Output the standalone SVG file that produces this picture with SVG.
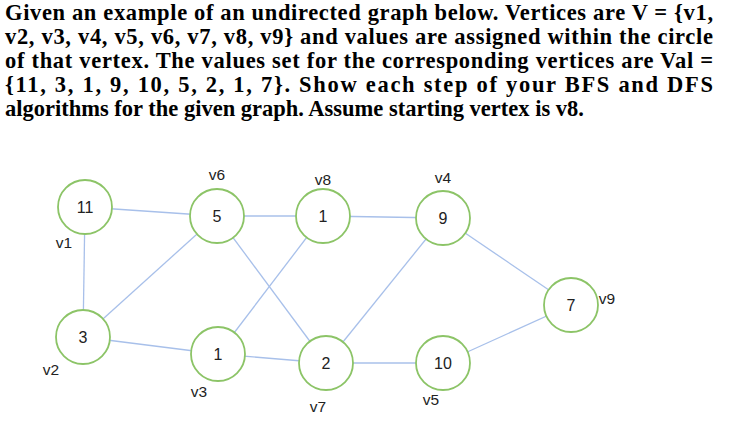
<svg xmlns="http://www.w3.org/2000/svg" width="756" height="422" viewBox="0 0 756 422">
<style>
.t{font-family:"Liberation Serif",serif;font-weight:bold;font-size:22.5px;fill:#000}
.n circle{fill:#fff;stroke:#8cc467;stroke-width:1.8}
.v{font-family:"Liberation Sans",sans-serif;font-size:16px;fill:#222;text-anchor:middle}
.l{font-family:"Liberation Sans",sans-serif;font-size:15.5px;fill:#222;text-anchor:middle}
#edges line{stroke:#a8c0ea;stroke-width:1.3}
</style>
<rect width="756" height="422" fill="#fff"/>
<text class="t" x="5" y="20" textLength="708" lengthAdjust="spacing">Given an example of an undirected graph below. Vertices are V = {v1,</text>
<text class="t" x="5" y="44" textLength="708" lengthAdjust="spacing">v2, v3, v4, v5, v6, v7, v8, v9} and values are assigned within the circle</text>
<text class="t" x="5" y="68" textLength="708" lengthAdjust="spacing">of that vertex. The values set for the corresponding vertices are Val =</text>
<text class="t" x="5" y="92" textLength="708" lengthAdjust="spacing">{11, 3, 1, 9, 10, 5, 2, 1, 7}. Show each step of your BFS and DFS</text>
<text class="t" x="5" y="116">algorithms for the given graph. Assume starting vertex is v8.</text>
<g id="edges">
<line x1="85" y1="207" x2="217" y2="216"/>
<line x1="85" y1="207" x2="83" y2="337"/>
<line x1="217" y1="216" x2="323" y2="216"/>
<line x1="323" y1="216" x2="443" y2="218"/>
<line x1="83" y1="337" x2="217" y2="216"/>
<line x1="83" y1="337" x2="218" y2="354"/>
<line x1="218" y1="354" x2="323" y2="216"/>
<line x1="217" y1="216" x2="326" y2="363"/>
<line x1="218" y1="354" x2="326" y2="363"/>
<line x1="326" y1="363" x2="443" y2="218"/>
<line x1="326" y1="363" x2="443" y2="363"/>
<line x1="443" y1="218" x2="571" y2="305"/>
<line x1="443" y1="363" x2="571" y2="305"/>
</g>
<g id="v1" class="n"><circle cx="85" cy="207" r="27"/><text class="v" x="85" y="213">11</text><text class="l" x="64" y="248">v1</text></g>
<g id="v2" class="n"><circle cx="83" cy="337" r="27"/><text class="v" x="83" y="343">3</text><text class="l" x="51" y="375">v2</text></g>
<g id="v3" class="n"><circle cx="218" cy="354" r="27"/><text class="v" x="218" y="360">1</text><text class="l" x="199" y="397">v3</text></g>
<g id="v4" class="n"><circle cx="443" cy="218" r="27"/><text class="v" x="443" y="224">9</text><text class="l" x="443" y="183">v4</text></g>
<g id="v5" class="n"><circle cx="443" cy="363" r="27"/><text class="v" x="443" y="369">10</text><text class="l" x="431" y="405">v5</text></g>
<g id="v6" class="n"><circle cx="217" cy="216" r="27"/><text class="v" x="217" y="222">5</text><text class="l" x="217" y="180">v6</text></g>
<g id="v7" class="n"><circle cx="326" cy="363" r="27"/><text class="v" x="326" y="369">2</text><text class="l" x="318" y="412">v7</text></g>
<g id="v8" class="n"><circle cx="323" cy="216" r="27"/><text class="v" x="323" y="222">1</text><text class="l" x="323" y="185">v8</text></g>
<g id="v9" class="n"><circle cx="571" cy="305" r="27"/><text class="v" x="571" y="311">7</text><text class="l" x="607" y="304">v9</text></g>
</svg>
